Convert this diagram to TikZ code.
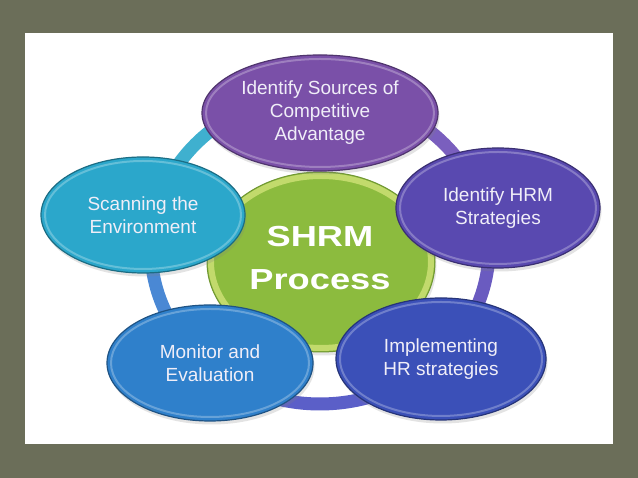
\documentclass[tikz,border=0pt]{standalone}
\usepackage{fontspec}
\setmainfont{Liberation Sans}
\usetikzlibrary{shapes.geometric,shadows,calc}
\definecolor{framecol}{HTML}{6B6E59}
\definecolor{txtcol}{HTML}{F0EEF8}
\definecolor{topcol}{HTML}{7A50A8}
\definecolor{scancol}{HTML}{2BA7CB}
\definecolor{hrmcol}{HTML}{5949B0}
\definecolor{moncol}{HTML}{2F80CB}
\definecolor{implcol}{HTML}{3B50B8}
\definecolor{corecol}{HTML}{8CBB3E}
\definecolor{corerim}{HTML}{C2DA6C}
\definecolor{ringTL}{HTML}{3FB0CF}
\definecolor{ringTR}{HTML}{7A5FBE}
\definecolor{ringR}{HTML}{6A5BC0}
\definecolor{ringB}{HTML}{5B5FC8}
\definecolor{ringL}{HTML}{4A88D4}
\newcommand\mybubble[7]{%
  \node[bubble=#6, minimum width=#4pt, minimum height=#5pt] (#1) at (#2,#3) {#7};
  \draw[draw=#6!55!white, line width=2pt, opacity=0.6]
    (#1.center) ellipse[x radius={#4/2-4}, y radius={#5/2-4}];
}
\begin{document}
\begin{tikzpicture}[x=1pt,y=1pt,
  bubble/.style={ellipse, inner sep=0pt, draw=#1!65!black, line width=1.2pt, fill=#1,
    text=txtcol, font=\fontsize{19}{23}\selectfont, align=center,
    drop shadow={opacity=0.22, shadow xshift=1.5pt, shadow yshift=-3.5pt}},
  ringseg/.style={line width=13pt, draw=#1},
]
\fill[framecol] (0,0) rectangle (638,478);
\fill[white] (25,34) rectangle (613,445);
\useasboundingbox (0,0) rectangle (638,478);
\coordinate (rc) at (320,229);
\draw[ringseg=ringTR] ($(rc)+(10:169 and 155)$) arc[start angle=10, end angle=92, x radius=169, y radius=155];
\draw[ringseg=ringTL] ($(rc)+(90:169 and 155)$) arc[start angle=90, end angle=170, x radius=169, y radius=155];
\draw[ringseg=ringL] ($(rc)+(168:169 and 155)$) arc[start angle=168, end angle=230, x radius=169, y radius=155];
\draw[ringseg=ringB] ($(rc)+(228:169 and 155)$) arc[start angle=228, end angle=317, x radius=169, y radius=155];
\draw[ringseg=ringR] ($(rc)+(315:169 and 155)$) arc[start angle=315, end angle=372, x radius=169, y radius=155];
\node[ellipse, inner sep=0pt, minimum width=228pt, minimum height=180pt, fill=corecol,
  draw=corecol!80!black, line width=1pt,
  drop shadow={opacity=0.2, shadow xshift=1.5pt, shadow yshift=-3.5pt}] (core) at (321,216) {};
\draw[corerim, line width=6pt] (core.center) ellipse[x radius=110, y radius=86];
\node[text=white, font=\fontsize{29}{43}\selectfont\bfseries, align=center] (coretext) at (320,220)
  {\scalebox{1.25}[1]{SHRM}\\\scalebox{1.25}[1]{Process}};
\mybubble{top}{320}{365}{236}{116}{topcol}{Identify Sources of\\Competitive\\Advantage}
\mybubble{scan}{143}{263}{204}{116}{scancol}{Scanning the\\Environment}
\mybubble{hrm}{498}{270}{204}{120}{hrmcol}{Identify HRM\\Strategies}
\mybubble{mon}{210}{115}{206}{116}{moncol}{Monitor and\\Evaluation}
\mybubble{impl}{441}{119}{210}{122}{implcol}{Implementing\\HR strategies}
\end{tikzpicture}
\end{document}
